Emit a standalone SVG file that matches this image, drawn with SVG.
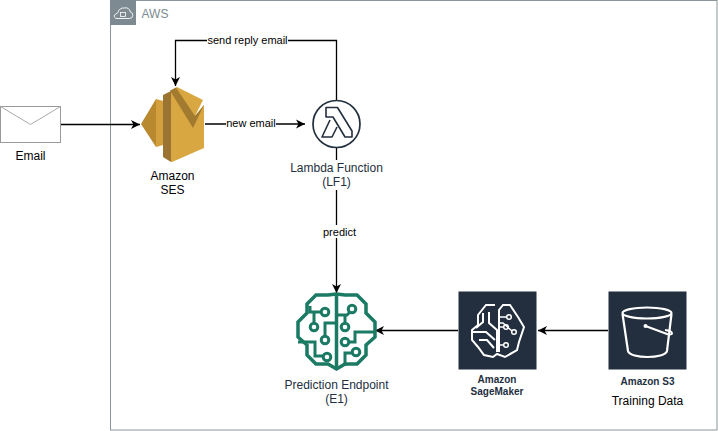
<svg xmlns="http://www.w3.org/2000/svg" width="718" height="431" viewBox="0 0 718 431">
<style>
text{font-family:"Liberation Sans",Arial,sans-serif;text-anchor:middle}
.l{font-size:11px;fill:#000}
.n{font-size:12px;fill:#232f3e}
.b{font-size:10px;font-weight:bold;fill:#232f3e}
.c{fill:none;stroke:#000;stroke-width:1.300}
.g{fill:none;stroke:#1a7a63;stroke-width:3.500}
.t{fill:none;stroke:#1a7a63;stroke-width:3}
.w{fill:none;stroke:#fff;stroke-width:2;stroke-linejoin:miter}
.d{fill:none;stroke:#fff;stroke-width:1.500}
</style>
<defs>
<marker id="a" markerUnits="userSpaceOnUse" markerWidth="12" markerHeight="12" refX="9" refY="6" orient="auto"><path d="M0 1.500L9 6L0 10.500L2.500 6Z" fill="#000"/></marker>
</defs>
<rect width="718" height="431" fill="#fff"/>
<g id="aws">
<rect x="110.500" y="0.500" width="606.500" height="429.500" fill="none" stroke="#8c9599" stroke-width="1"/>
<rect x="110" y="0" width="26" height="25" fill="#7d8a91"/>
<path d="M117 18.500H129.500a3.300 3.300 0 0 0 .8-6.500a4.500 4.500 0 0 0-6-4a5.500 5.500 0 0 0-6.300 4.500L114.500 15a2.500 2.500 0 0 0 2.500 3.500Z" fill="none" stroke="#fff" stroke-width="0.900"/>
<rect x="120.500" y="12.500" width="5" height="4" fill="none" stroke="#fff" stroke-width="0.800"/>
<text x="155" y="18" style="font-size:12px;fill:#7d8a91">AWS</text>
</g>
<g id="connectors">
<path class="c" d="M61 124.500H140" marker-end="url(#a)"/>
<path class="c" d="M336.500 100V40.500H175.500V86" marker-end="url(#a)"/>
<path class="c" d="M205 124H305" marker-end="url(#a)"/>
<path class="c" d="M336.500 148V293" marker-end="url(#a)"/>
<path class="c" d="M458 330.500H375" marker-end="url(#a)"/>
<path class="c" d="M608 330.500H538" marker-end="url(#a)"/>
</g>
<g id="email">
<rect x="0.500" y="106.500" width="60" height="36" fill="#fff" stroke="#999"/>
<path d="M0.500 106.500L30.500 124.500L60.500 106.500" fill="none" stroke="#aaa"/>
<text class="l" x="30.500" y="160" style="font-size:12px">Email</text>
</g>
<g id="ses">
<path d="M141 124L156 99V147Z" fill="#b8892f"/>
<path d="M156 99L163 101V145L156 147Z" fill="#d3a03d"/>
<path d="M163 95L171 91V162L163 157Z" fill="#9a7430"/>
<path d="M171 91L177 87L203 100L195 116L204 105V148L172 162H171Z" fill="#d9a741"/>
<path d="M170 90.500L176 87.500L195 116L204 105L193 128Z" fill="#a27b31"/>
<text class="l" x="172.500" y="180" style="font-size:12px">Amazon</text>
<text class="l" x="172.500" y="194" style="font-size:12px">SES</text>
</g>
<g id="lambda">
<circle cx="336.500" cy="124" r="23.500" fill="#fff" stroke="#232f3e" stroke-width="1.700"/>
<path d="M326 107.500H337.500L352 131V137H345L333 117H326ZM330 120L322 137H332L337 127" fill="none" stroke="#232f3e" stroke-width="1.600" stroke-linejoin="round"/>
<rect x="287" y="160" width="100" height="30" fill="#fff"/>
<text class="n" x="336.500" y="172">Lambda Function</text>
<text class="n" x="336.500" y="186">(LF1)</text>
</g>
<g id="endpoint">
<path class="g" d="M336.500 369L328 364H316L307 355V345L298 337V322L307 313V304L316 295H328L336.500 294L345 295H357L366 304V313L375 322V337L366 345V355L357 364H345ZM336.500 294V369"/>
<path class="t" d="M310 306V312H321"/>
<circle class="t" cx="325" cy="312" r="3.800"/>
<path class="t" d="M314 312V323"/>
<circle class="t" cx="314" cy="327" r="3.800"/>
<path class="t" d="M336 323H325V336"/>
<circle class="t" cx="325" cy="340" r="3.800"/>
<path class="t" d="M298 342H315V356H323"/>
<circle class="t" cx="327" cy="357" r="3.800"/>
<path class="t" d="M337 315H347L350 312"/>
<circle class="t" cx="352" cy="309" r="3.800"/>
<path class="t" d="M345 315V323"/>
<circle class="t" cx="345" cy="327" r="3.800"/>
<path class="t" d="M349 342H355V332H375"/>
<circle class="t" cx="345" cy="342" r="3.800"/>
<path class="t" d="M345 366V353H352"/>
<circle class="t" cx="356" cy="352" r="3.800"/>
<text class="n" x="336.500" y="389">Prediction Endpoint</text>
<text class="n" x="336.500" y="403">(E1)</text>
</g>
<g id="sagemaker">
<rect x="458.500" y="291.500" width="78" height="78" fill="#232f3e"/>
<path class="w" d="M495 305H486L478 315V325L472 330V340L478 347L484 355L493 357L497 354L505 357L517 350L519 342L524 327L518 317L510 305H503L499 310V352"/>
<path class="w" d="M489 312V323L497 330V352M483 313V322L476 328M473 332H486L495 340M479 340H487L494 348"/>
<path class="d" d="M499 317H507M499 327H504M499 323H503L512 331M499 345H504"/>
<circle class="d" cx="509" cy="317" r="2.300"/>
<circle class="d" cx="506" cy="327" r="2.300"/>
<circle class="d" cx="514" cy="332" r="2.300"/>
<circle class="d" cx="506" cy="345" r="2.300"/>
<text class="b" x="497" y="383">Amazon</text>
<text class="b" x="497" y="395">SageMaker</text>
</g>
<g id="s3">
<rect x="608.500" y="291.500" width="78" height="78" fill="#232f3e"/>
<ellipse cx="647" cy="313" rx="24.500" ry="5.500" fill="none" stroke="#fff" stroke-width="2.200"/>
<path d="M622.500 314L628 351C630 359 665 359 667 351L671.500 314" fill="none" stroke="#fff" stroke-width="2.200"/>
<circle cx="645.500" cy="326" r="2" fill="#fff"/>
<path d="M645.500 326L667 334C674 336 674 331 665 330" fill="none" stroke="#fff" stroke-width="2"/>
<text class="b" x="647.500" y="385">Amazon S3</text>
<text class="l" x="647.500" y="405" style="font-size:12px">Training Data</text>
</g>
<g id="labels">
<rect x="207" y="34" width="81" height="13" fill="#fff"/>
<text class="l" x="247.500" y="44">send reply email</text>
<rect x="226" y="117" width="50" height="13" fill="#fff"/>
<text class="l" x="251" y="127">new email</text>
<rect x="322" y="225" width="35" height="13" fill="#fff"/>
<text class="l" x="339.500" y="236">predict</text>
</g>
</svg>
